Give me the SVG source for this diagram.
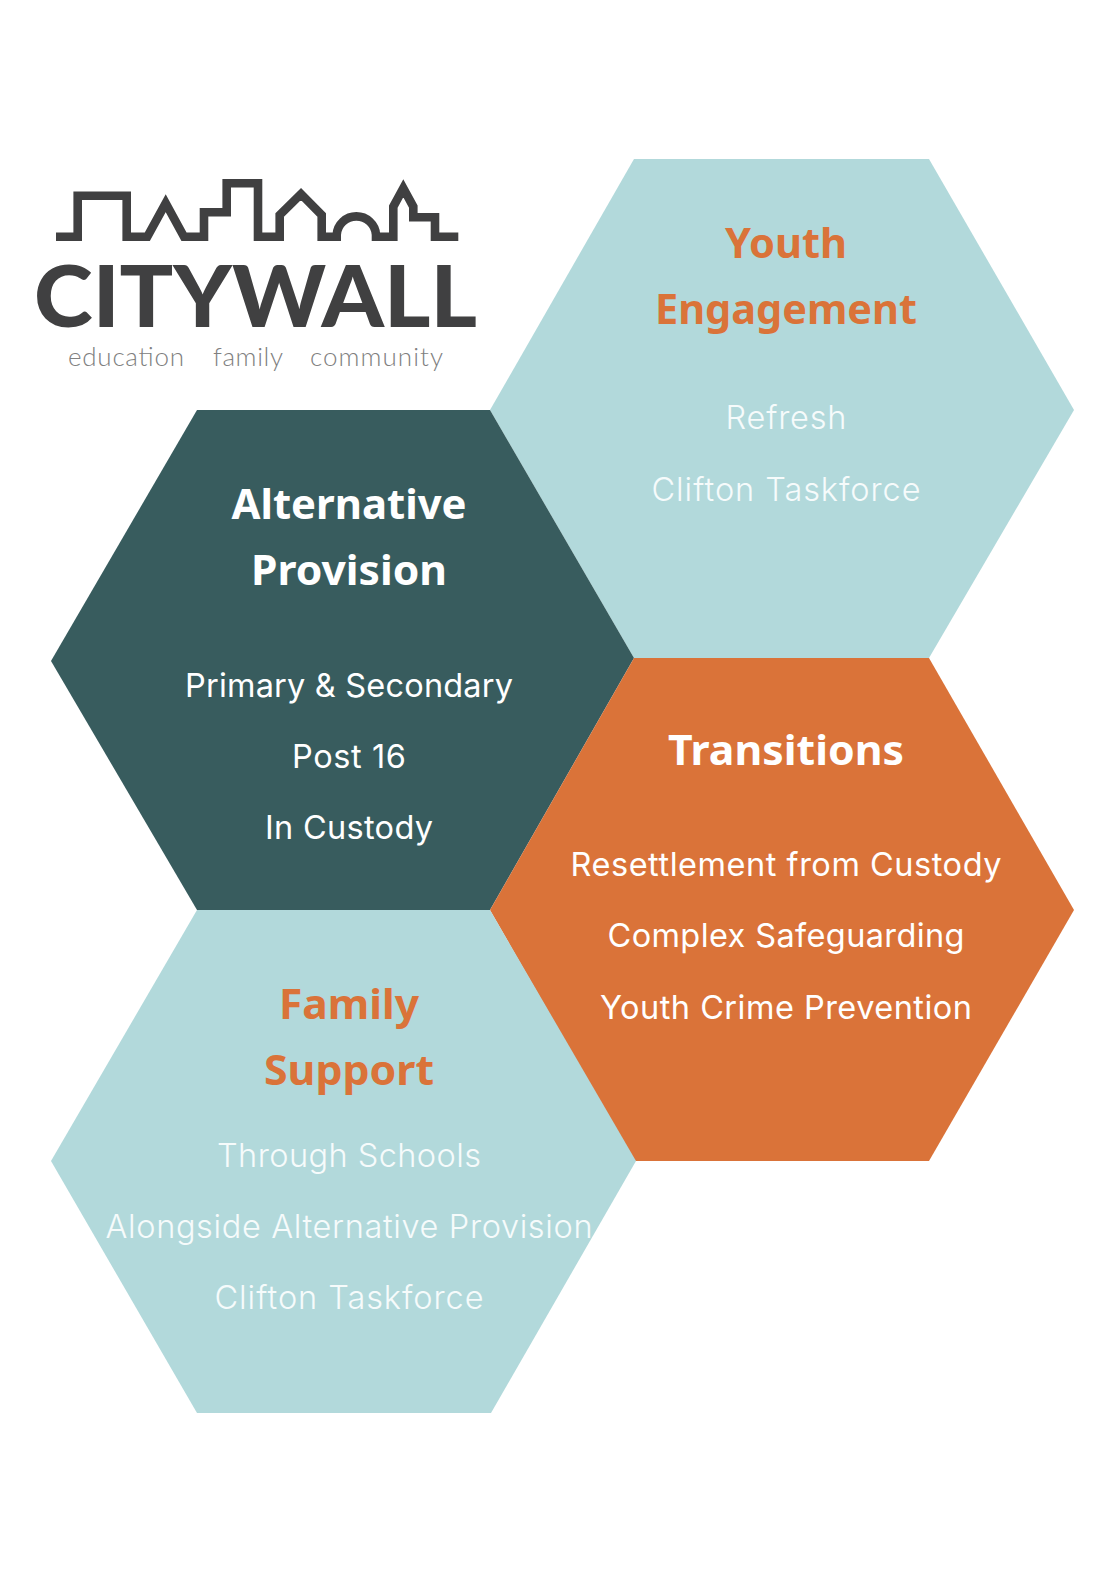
<svg xmlns="http://www.w3.org/2000/svg" width="1114" height="1576" viewBox="0 0 1114 1576">
<style>
.t{font-family:"Noto Sans","Open Sans",sans-serif;font-weight:700;font-size:42px;text-anchor:middle}
.b{font-family:Inter,"Noto Sans",sans-serif;font-weight:400;font-size:32.5px;fill:#fff;text-anchor:middle}
.bl{font-weight:300;fill:#f6fbfb}
.o{fill:#da7339}.w{fill:#fff}
.tag{font-family:Lato,"Noto Sans",sans-serif;font-weight:300;font-size:26px;fill:#808080}
</style>
<rect width="1114" height="1576" fill="#fff"/>
<g id="logo">
<path d="M56 236.700H77.700V195.700H126.700V236.700H147.300L165.700 203.300L184 236.700H204V212.300H226.700V183.300H258V236.700H279.700V215L301 194L321.700 215V236.700H336.700V234.700A19.700 19.700 0 0 1 376 234.700V236.700H393.300V206.700L403.300 188.300L413.300 206.700V217.300H435V236.700H458.300" fill="none" stroke="#404041" stroke-width="8.600"/>
<text x="34" y="327" font-family="Lato,sans-serif" font-weight="900" font-size="86" fill="#404041" textLength="443" lengthAdjust="spacingAndGlyphs">CITYWALL</text>
<text class="tag" x="68" y="366" textLength="116">education</text>
<text class="tag" x="213" y="366" textLength="70">family</text>
<text class="tag" x="310" y="366" textLength="133">community</text>
</g>
<g id="node-youth">
<polygon points="634,159 929,159 1074,410 929,658 634,658 490,410" fill="#b2d9db"/>
<text class="t o" x="786" y="258" textLength="122" lengthAdjust="spacingAndGlyphs">Youth</text>
<text class="t o" x="786" y="324" textLength="262" lengthAdjust="spacingAndGlyphs">Engagement</text>
<text class="b bl" x="786" y="429" textLength="121">Refresh</text>
<text class="b bl" x="786" y="501" textLength="269">Clifton Taskforce</text>
</g>
<g id="node-alternative">
<polygon points="197,410 490,410 634,658 490,910 197,910 51,661" fill="#385c5e"/>
<text class="t w" x="349" y="519" textLength="235" lengthAdjust="spacingAndGlyphs">Alternative</text>
<text class="t w" x="349" y="585" textLength="196" lengthAdjust="spacingAndGlyphs">Provision</text>
<text class="b" x="349" y="697" textLength="328">Primary &amp; Secondary</text>
<text class="b" x="349" y="768" textLength="114">Post 16</text>
<text class="b" x="349" y="839" textLength="168">In Custody</text>
</g>
<g id="node-transitions">
<polygon points="634,658 929,658 1074,910 929,1161 634,1161 490,910" fill="#da7339"/>
<text class="t w" x="786" y="765" textLength="236" lengthAdjust="spacingAndGlyphs">Transitions</text>
<text class="b" x="786" y="876" textLength="431">Resettlement from Custody</text>
<text class="b" x="786" y="947" textLength="357">Complex Safeguarding</text>
<text class="b" x="786" y="1019" textLength="372">Youth Crime Prevention</text>
</g>
<g id="node-family">
<polygon points="197,910 490,910 636,1161 491,1413 197,1413 51,1161" fill="#b2d9db"/>
<text class="t o" x="349" y="1019" textLength="140" lengthAdjust="spacingAndGlyphs">Family</text>
<text class="t o" x="349" y="1085" textLength="170" lengthAdjust="spacingAndGlyphs">Support</text>
<text class="b bl" x="349" y="1167" textLength="264">Through Schools</text>
<text class="b bl" x="349" y="1238" textLength="487">Alongside Alternative Provision</text>
<text class="b bl" x="349" y="1309" textLength="269">Clifton Taskforce</text>
</g>
<g id="connectors"/>
</svg>
